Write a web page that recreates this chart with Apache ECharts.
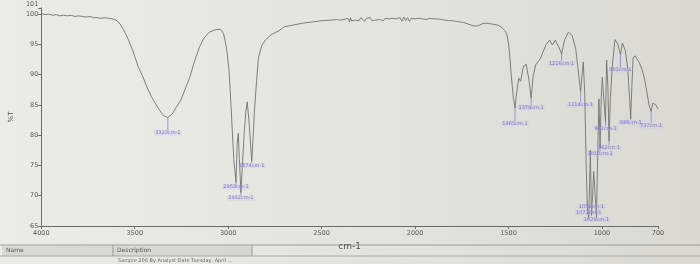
<!DOCTYPE html>
<html>
<head>
<meta charset="utf-8">
<script src="https://cdn.jsdelivr.net/npm/echarts@6/dist/echarts.min.js"></script>
<style>
html,body{margin:0;padding:0;background:#e4e4de;}
#chart{width:700px;height:264px;}
</style>
</head>
<body>
<div id="chart"></div>
<script>
// Spectrum trace (wavenumber, cm-1) and transmittance (%T)
const wavenumbers = [
4000,3980,3960,3940,3920,3900,3880,3860,3840,3820,3800,3780,3760,3740,3720,3700,3680,3660,3640,3620,3600,
3588,3575,3562,3540,3510,3480,3459,3430,3408,3385,3367,3345,3323,3300,3280,3255,3230,3204,3180,3153,3130,3102,3070,3041,
3025,3015,3005,2995,2985,2978,2970,2958,2952,2946,2940,2932,2924,2914,2905,2898,2888,2874,2866,2860,2848,2838,2820,2801,2770,2731,
2700,2650,2600,2550,2500,2450,2420,2400,2380,2370,2360,2350,2345,2340,2330,2320,2310,2300,2290,2280,2270,2260,2250,2240,2230,2220,
2210,2200,2190,2180,2170,2160,2150,2140,2130,2120,2110,2100,2090,2080,2070,2060,2050,2040,2030,2020,2010,2000,1980,1960,1940,1920,
1900,1880,1860,1840,1820,1800,1780,1760,1740,1720,1700,1680,1660,1640,1620,1600,1580,1560,1540,1530,1520,1510,1500,1495,1485,1475,
1465,1455,1445,1435,1420,1405,1390,1379,1368,1355,1330,1300,1280,1265,1250,1230,1216,1200,1180,1160,1140,1128,1114,1100,1092,1085,
1078,1071,1066,1062,1056,1050,1044,1038,1029,1022,1016,1010,1004,998,990,981,975,968,962,955,945,930,915,901,890,875,862,852,846,
840,833,822,812,800,785,772,760,748,737,728,720,712,700
];
const transmittance = [
100.1,99.9,100.0,99.8,99.9,99.7,99.8,99.7,99.8,99.6,99.7,99.6,99.5,99.6,99.4,99.4,99.3,99.4,99.3,99.2,99.0,
98.7,98.2,97.5,96.2,93.9,91.2,89.8,87.6,86.2,85.0,84.1,83.2,82.9,83.5,84.5,85.7,87.6,89.7,92.2,94.6,96.0,97.0,97.4,97.5,
96.8,95.4,93.5,90.5,85.0,80.7,76.0,72.2,78.5,80.3,76.0,70.5,75.0,80.6,84.0,85.5,82.0,75.7,80.0,83.8,89.0,92.8,94.8,95.7,96.6,97.2,
97.9,98.2,98.5,98.7,98.9,99.0,99.1,99.0,99.1,98.8,99.3,98.7,99.4,98.9,99.2,99.0,99.3,98.9,99.4,99.1,98.8,99.3,99.0,99.4,98.9,99.2,
99.0,99.3,99.1,99.2,98.9,99.3,99.1,99.2,99.0,99.3,99.1,99.2,99.0,99.4,98.8,99.5,98.9,99.4,98.8,99.3,99.1,99.2,99.3,99.2,99.1,99.3,
99.2,99.2,99.1,99.0,98.9,98.9,98.8,98.7,98.6,98.4,98.2,98.0,98.1,98.4,98.5,98.4,98.3,98.2,97.9,97.6,97.3,96.8,95.2,93.8,89.8,86.5,
84.5,87.3,89.4,88.9,91.4,91.7,89.0,86.1,89.7,91.6,92.6,94.9,95.7,94.9,95.7,94.5,93.4,95.7,97.0,96.5,94.2,91.0,87.2,92.1,87.0,76.0,
68.0,66.3,72.0,77.5,66.8,70.0,74.0,71.0,66.5,78.0,86.0,77.8,86.0,89.6,86.0,82.2,92.4,88.0,79.0,86.0,91.3,95.8,95.0,93.3,95.2,94.0,91.0,86.0,82.7,
88.0,92.8,93.1,92.8,92.0,90.8,89.3,87.2,85.0,83.9,85.3,85.6,85.0,84.3
];

// Labelled peaks
const peakWavenumbers = [3323,2958,2932,2874,1465,1379,1216,1114,1071,1056,1029,1010,981,962,901,846,737];
const peakValues      = [82.9,72.2,70.5,75.7,84.5,86.1,93.4,87.2,66.3,66.8,66.5,77.8,82.2,79.0,93.3,82.7,83.9];
const peakLabels      = ['3323cm-1','2958cm-1','2932cm-1','2874cm-1','1465cm-1','1379cm-1','1216cm-1','1114cm-1',
                         '1071cm-1','1056cm-1','1029cm-1','1010cm-1','981cm-1','962cm-1','901cm-1','846cm-1','737cm-1'];

// Tick labels
const xTickValues = [4000,3500,3000,2500,2000,1500,1000,700];
const yTickValues = [65,70,75,80,85,90,95,100];
const yTopTickValues = [101];

// Layout only: vertical gap (px) between each dip and its label
const labelGaps = [13,2,3,2,13,7,7,11,-9,-12,-1,3,4,4,13,1,12];

const chart = echarts.init(document.getElementById('chart'), null, {renderer:'canvas'});

const lineData = wavenumbers.map((w,i)=>[w, transmittance[i]]);
const peakData = peakWavenumbers.map((w,i)=>{
  const g = labelGaps[i];
  const len = Math.max(g, 1);
  return {
    value:[w, peakValues[i]], name: peakLabels[i],
    symbolSize:[1, len], symbolOffset:[0, len/2],
    label: g >= 0 ? {position:'bottom', distance:0} : {position:'bottom', distance:0, offset:[0, g]}
  };
});

const yAxisBase = {
  type:'value', min:65, max:101, position:'left',
  axisLine:{show:true, lineStyle:{color:'#6a6a6a', width:1}},
  splitLine:{show:false}
};

const option = {
  backgroundColor: {
    type:'linear', x:0, y:0, x2:1, y2:0,
    colorStops:[{offset:0,color:'#ececE7'},{offset:0.6,color:'#e3e3dd'},{offset:1,color:'#d9d9d2'}]
  },
  animation:false,
  grid:{left:33, right:42, top:8, bottom:38, containLabel:false},
  xAxis:{
    type:'value', inverse:true, min:700, max:4000,
    name:'cm-1', nameLocation:'middle', nameGap:9,
    nameTextStyle:{fontFamily:'DejaVu Sans', fontSize:9, color:'#555'},
    axisLine:{show:true, onZero:false, lineStyle:{color:'#6a6a6a', width:1}},
    axisTick:{show:true, customValues:xTickValues, length:3, lineStyle:{color:'#6a6a6a'}},
    axisLabel:{customValues:xTickValues, formatter:v=>String(v), hideOverlap:false,
      fontFamily:'DejaVu Sans', fontSize:6.5, color:'#555', margin:4},
    splitLine:{show:false}
  },
  yAxis:[
    Object.assign({}, yAxisBase, {
      name:'%T', nameLocation:'middle', nameGap:22, nameRotate:90,
      nameTextStyle:{fontFamily:'DejaVu Sans', fontSize:7, color:'#555'},
      axisTick:{show:true, customValues:yTickValues, length:3, lineStyle:{color:'#6a6a6a'}},
      axisLabel:{customValues:yTickValues, formatter:v=>String(v), hideOverlap:false,
        fontFamily:'DejaVu Sans', fontSize:6.5, color:'#555', margin:3}
    }),
    Object.assign({}, yAxisBase, {
      axisTick:{show:true, customValues:yTopTickValues, length:3, lineStyle:{color:'#6a6a6a'}},
      axisLabel:{customValues:yTopTickValues, formatter:v=>String(v), hideOverlap:false,
        fontFamily:'DejaVu Sans', fontSize:6.5, color:'#555', margin:3, verticalAlign:'bottom'}
    })
  ],
  series:[
    {
      type:'line', data:lineData, showSymbol:false, smooth:false, yAxisIndex:0,
      lineStyle:{color:'#727272', width:0.9}, z:2
    },
    {
      type:'scatter', data:peakData, symbol:'rect', yAxisIndex:0,
      itemStyle:{color:'#8a80d8'}, z:3,
      label:{
        show:true,
        formatter:p=>p.name,
        fontFamily:'DejaVu Sans', fontSize:5, color:'#6a5ec9',
        backgroundColor:'rgba(190,182,240,0.35)', padding:[0,1]
      }
    }
  ],
  graphic:[
    {type:'line', shape:{x1:0,y1:245,x2:700,y2:245}, style:{stroke:'#9c9c96', lineWidth:1}},
    {type:'rect', shape:{x:2,y:246,width:250,height:10}, style:{fill:'rgba(205,205,200,0.6)'}},
    {type:'line', shape:{x1:0,y1:256,x2:700,y2:256}, style:{stroke:'#a8a8a2', lineWidth:1}},
    {type:'line', shape:{x1:113,y1:245,x2:113,y2:256}, style:{stroke:'#9c9c96', lineWidth:1}},
    {type:'line', shape:{x1:252,y1:245,x2:252,y2:256}, style:{stroke:'#9c9c96', lineWidth:1}},
    {type:'text', left:6, top:247, style:{text:'Name', fontFamily:'DejaVu Sans', fontSize:6, fill:'#555'}},
    {type:'text', left:117, top:247, style:{text:'Description', fontFamily:'DejaVu Sans', fontSize:6, fill:'#555'}},
    {type:'text', left:118, top:258, style:{text:'Sample 206 By Analyst Date Tuesday, April ...', fontFamily:'DejaVu Sans', fontSize:5, fill:'#666'}}
  ]
};
chart.setOption(option);
</script>
</body>
</html>
